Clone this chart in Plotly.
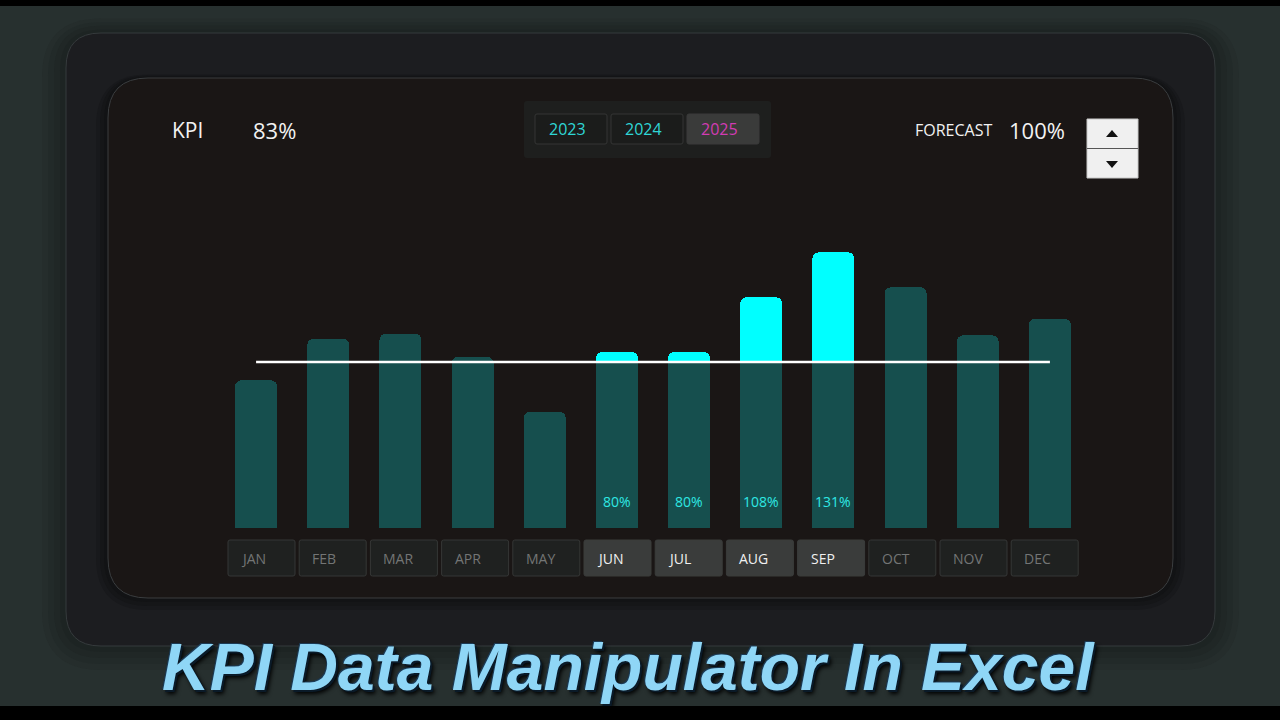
import plotly.graph_objects as go

# ---------------- data ----------------
months = ["JAN", "FEB", "MAR", "APR", "MAY", "JUN", "JUL", "AUG", "SEP", "OCT", "NOV", "DEC"]
values = [89, 114, 117, 103, 70, 106, 106, 139, 166, 145, 116, 126]
target = 100
selected = ["JUN", "JUL", "AUG", "SEP"]
pct_labels = ["80%", "80%", "108%", "131%"]
years = ["2023", "2024", "2025"]
active_year = "2025"
kpi_value = "83%"
forecast_value = "100%"
title_text = "KPI Data Manipulator In Excel"

W, H = 1280, 720
DARK = "#164f4e"
CYAN = "#00ffff"
FONT = "Open Sans, Noto Sans, sans-serif"


def px(x):
    return x / W


def py(y):
    return 1 - y / H


def rrect(x0, y0, x1, y1, r):
    pts = [
        f"M {px(x0 + r)},{py(y0)}",
        f"L {px(x1 - r)},{py(y0)}",
        f"Q {px(x1)},{py(y0)} {px(x1)},{py(y0 + r)}",
        f"L {px(x1)},{py(y1 - r)}",
        f"Q {px(x1)},{py(y1)} {px(x1 - r)},{py(y1)}",
        f"L {px(x0 + r)},{py(y1)}",
        f"Q {px(x0)},{py(y1)} {px(x0)},{py(y1 - r)}",
        f"L {px(x0)},{py(y0 + r)}",
        f"Q {px(x0)},{py(y0)} {px(x0 + r)},{py(y0)}",
        "Z",
    ]
    return " ".join(pts)


shapes = []


def add_rr(x0, y0, x1, y1, r, fill, line=None, lw=1, layer="below"):
    shapes.append(dict(type="path", xref="paper", yref="paper", path=rrect(x0, y0, x1, y1, r),
                       fillcolor=fill, line=dict(color=line or fill, width=lw if line else 0),
                       layer=layer))


# background bands
shapes.append(dict(type="rect", xref="paper", yref="paper", x0=0, x1=1, y0=py(6), y1=1,
                   fillcolor="#000000", line_width=0, layer="below"))
shapes.append(dict(type="rect", xref="paper", yref="paper", x0=0, x1=1, y0=0, y1=py(706),
                   fillcolor="#000000", line_width=0, layer="below"))
# soft shadow around outer panel
for i, a in enumerate([0.10, 0.12, 0.14, 0.16]):
    d = 24 - i * 6
    add_rr(66 - d, 33 - d * 0.6, 1215 + d, 646 + d, 35 + d, f"rgba(18,22,22,{a})")
# outer panel
add_rr(66, 33, 1215, 646, 35, "#1c1d20", "#353a3c", 1)
# inner panel shadow + panel
for i, a in enumerate([0.15, 0.2, 0.25]):
    d = 12 - i * 4
    add_rr(108 - d, 78 - d * 0.3, 1173 + d, 598 + d, 40 + d, f"rgba(10,10,10,{a})")
add_rr(108, 78, 1173, 598, 40, "#1a1615", "#3a3d3f", 1)

annotations = []

# year selector
add_rr(524, 101, 771, 158, 3, "#1e1f1e")
for i, yr in enumerate(years):
    x0 = 535 + i * 76
    active = yr == active_year
    add_rr(x0, 114, x0 + 72, 144, 2, "#3a3b3a" if active else "#1b1c1b", "#3a3b3a" if active else "#343534", 1)
    annotations.append(dict(x=px(x0 + 12), y=py(129), xref="paper", yref="paper", text=yr,
                            showarrow=False, xanchor="left", yanchor="middle",
                            font=dict(family=FONT, size=16, color="#d23cb4" if active else "#2fd6d6")))

# KPI / forecast text
annotations.append(dict(x=px(170), y=py(130), xref="paper", yref="paper", text="KPI", showarrow=False,
                        xanchor="left", yanchor="middle", font=dict(family=FONT, size=21, color="#f2f2f2")))
annotations.append(dict(x=px(251), y=py(130), xref="paper", yref="paper", text=kpi_value, showarrow=False,
                        xanchor="left", yanchor="middle", font=dict(family=FONT, size=22, color="#f2f2f2")))
annotations.append(dict(x=px(913), y=py(130), xref="paper", yref="paper", text="FORECAST", showarrow=False,
                        xanchor="left", yanchor="middle", font=dict(family=FONT, size=16, color="#f2f2f2")))
annotations.append(dict(x=px(1007), y=py(130), xref="paper", yref="paper", text=forecast_value, showarrow=False,
                        xanchor="left", yanchor="middle", font=dict(family=FONT, size=22, color="#f2f2f2")))

# spinner
shapes.append(dict(type="rect", xref="paper", yref="paper", x0=px(1087), x1=px(1138), y0=py(178), y1=py(119),
                   fillcolor="#f0f0f0", line=dict(color="#c8c8c8", width=1), layer="above"))
shapes.append(dict(type="line", xref="paper", yref="paper", x0=px(1087), x1=px(1138), y0=py(148.5), y1=py(148.5),
                   line=dict(color="#555555", width=1), layer="above"))
shapes.append(dict(type="path", xref="paper", yref="paper",
                   path=f"M {px(1106)},{py(137)} L {px(1118)},{py(137)} L {px(1112)},{py(130)} Z",
                   fillcolor="#111111", line_width=0, layer="above"))
shapes.append(dict(type="path", xref="paper", yref="paper",
                   path=f"M {px(1106)},{py(161)} L {px(1118)},{py(161)} L {px(1112)},{py(168)} Z",
                   fillcolor="#111111", line_width=0, layer="above"))

# month slicer buttons
for i, m in enumerate(months):
    x0 = 228 + i * 71.2
    sel = m in selected
    add_rr(x0, 540, x0 + 67, 576, 2, "#3a3c3b" if sel else "#1f2120", "#3a3c3b" if sel else "#353736", 1)
    annotations.append(dict(x=px(x0 + 11), y=py(558), xref="paper", yref="paper", text=m, showarrow=False,
                            xanchor="left", yanchor="middle",
                            font=dict(family=FONT, size=14, color="#f0f0f0" if sel else "#737575")))

# bars
base_vals = [min(v, target) if m in selected else v for m, v in zip(months, values)]
excess_vals = [(v - target) if (m in selected and v > target) else None for m, v in zip(months, values)]

fig = go.Figure()
fig.add_trace(go.Bar(x=months, y=base_vals, marker=dict(color=DARK, line_width=0), width=0.58,
                     hoverinfo="skip"))
fig.add_trace(go.Bar(x=months, y=excess_vals, marker=dict(color=CYAN, line_width=0), width=0.58,
                     hoverinfo="skip"))
fig.add_trace(go.Scatter(x=months, y=[target] * len(months), mode="lines",
                         line=dict(color="#ffffff", width=2.5), hoverinfo="skip"))

for m, lab in zip(selected, pct_labels):
    annotations.append(dict(x=m, y=0, xref="x", yref="y", text=lab, showarrow=False, yanchor="middle",
                            yshift=27, font=dict(family=FONT, size=14, color="#2ee8e4")))

# title
annotations.append(dict(x=px(628), y=py(667), xref="paper", yref="paper", text=title_text, showarrow=False,
                        xanchor="center", yanchor="middle",
                        font=dict(family="Liberation Sans, Arial, sans-serif",
                                  size=66, color="#8fd6f6", weight="bold", style="italic",
                                  shadow="2px 2px 0px #0a1a28, -1px -1px 0px #1b3a55, 3px 4px 4px #000")))

y_top_px = 192
y_range_top = (528 - y_top_px) / ((528 - 362) / target)

fig.update_layout(
    width=W, height=H,
    margin=dict(l=0, r=0, t=0, b=0),
    paper_bgcolor="#27302f",
    plot_bgcolor="rgba(0,0,0,0)",
    barmode="stack",
    barcornerradius=6,
    showlegend=False,
    shapes=shapes,
    annotations=annotations,
    xaxis=dict(domain=[px(220), px(1086)], showgrid=False, showticklabels=False, zeroline=False,
               showline=False, fixedrange=True),
    yaxis=dict(domain=[py(528), py(y_top_px)], range=[0, y_range_top], showgrid=False,
               showticklabels=False, zeroline=False, showline=False, fixedrange=True),
)

fig.write_html("out.html", config=dict(displayModeBar=False))
